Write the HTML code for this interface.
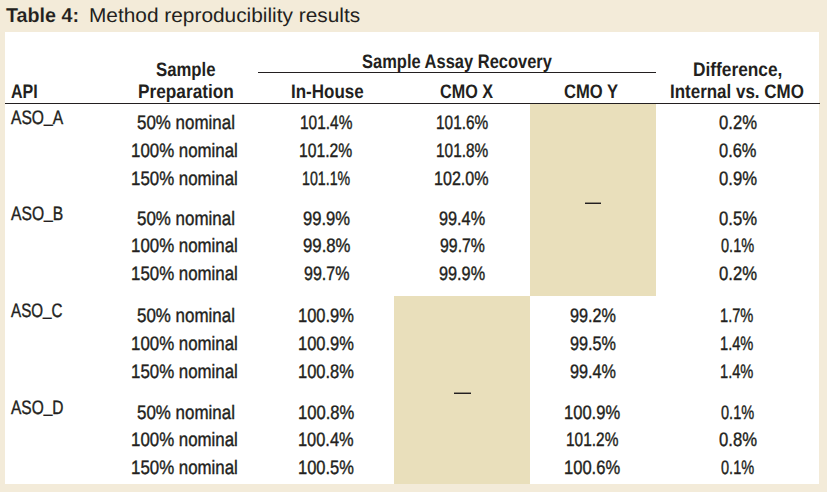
<!DOCTYPE html>
<html><head><meta charset="utf-8">
<style>
html,body{margin:0;padding:0;}
body{width:827px;height:492px;background:#f3ebd9;position:relative;overflow:hidden;font-family:"Liberation Sans",sans-serif;color:#231f20;}
.box{position:absolute;left:5px;top:32px;width:814px;height:452px;background:#fff;}
.shade{position:absolute;background:#e9dfbb;}
.rule{position:absolute;background:#231f20;height:1px;}
.dash{position:absolute;height:2px;background:linear-gradient(to bottom,rgba(35,31,32,.45) 50%,#231f20 50%);}
.r{-webkit-text-stroke:0.4px #231f20;}
.bh{}
.bt{-webkit-text-stroke:0.1px #f3ebd9;}
.u{position:relative;top:-2px;}
.t{text-rendering:geometricPrecision;position:absolute;white-space:pre;line-height:20px;transform-origin:0 0;}
</style></head><body>
<div class="box"></div>
<div class="shade" style="left:530px;top:104px;width:126px;height:192px"></div>
<div class="shade" style="left:394px;top:296px;width:136px;height:188px"></div>
<div class="rule" style="left:258px;top:72px;width:398px"></div>
<div class="rule" style="left:5px;top:103px;width:815px"></div>
<div class="dash" style="left:585px;top:202px;width:16px"></div>
<div class="dash" style="left:454px;top:392px;width:17px"></div>
<div class="t bt" style="left:6.40px;top:6.00px;font-size:20px;font-weight:700;transform-origin:0 16.0px;transform:scale(0.9858,1.0)">Table 4:</div>
<div class="t rt" style="left:88.86px;top:6.00px;font-size:20px;font-weight:400;transform-origin:0 16.0px;transform:scale(1.0424,1.0)">Method reproducibility results</div>
<div class="t bh" style="left:10.70px;top:82.00px;font-size:19.5px;font-weight:700;transform-origin:0 16.0px;transform:scale(0.8227,1.0)">API</div>
<div class="t bh" style="left:156.00px;top:60.00px;font-size:19.5px;font-weight:700;transform-origin:0 16.0px;transform:scale(0.8588,1.0)">Sample</div>
<div class="t bh" style="left:137.92px;top:82.00px;font-size:19.5px;font-weight:700;transform-origin:0 16.0px;transform:scale(0.8849,1.0)">Preparation</div>
<div class="t bh" style="left:362.00px;top:52.00px;font-size:19.5px;font-weight:700;transform-origin:0 16.0px;transform:scale(0.8452,1.0)">Sample Assay Recovery</div>
<div class="t bh" style="left:291.13px;top:82.00px;font-size:19.5px;font-weight:700;transform-origin:0 16.0px;transform:scale(0.8720,1.0)">In-House</div>
<div class="t bh" style="left:440.00px;top:82.00px;font-size:19.5px;font-weight:700;transform-origin:0 16.0px;transform:scale(0.8293,1.0)">CMO X</div>
<div class="t bh" style="left:563.60px;top:82.00px;font-size:19.5px;font-weight:700;transform-origin:0 16.0px;transform:scale(0.8512,1.0)">CMO Y</div>
<div class="t bh" style="left:692.91px;top:60.00px;font-size:19.5px;font-weight:700;transform-origin:0 16.0px;transform:scale(0.8866,1.0)">Difference,</div>
<div class="t bh" style="left:670.33px;top:82.00px;font-size:19.5px;font-weight:700;transform-origin:0 16.0px;transform:scale(0.8697,1.0)">Internal vs. CMO</div>
<div class="t r" style="left:10.90px;top:108.00px;font-size:19.5px;font-weight:400;transform-origin:0 16.0px;transform:scale(0.8012,1.0)">ASO<span class="u">_</span>A</div>
<div class="t r" style="left:136.70px;top:113.00px;font-size:19.5px;font-weight:400;transform-origin:0 16.0px;transform:scale(0.8683,1.0)">50% nominal</div>
<div class="t r" style="left:300.21px;top:113.00px;font-size:19.5px;font-weight:400;transform-origin:0 16.0px;transform:scale(0.7917,1.0)">101.4%</div>
<div class="t r" style="left:435.51px;top:113.00px;font-size:19.5px;font-weight:400;transform-origin:0 16.0px;transform:scale(0.7902,1.0)">101.6%</div>
<div class="t r" style="left:718.50px;top:113.00px;font-size:19.5px;font-weight:400;transform-origin:0 16.0px;transform:scale(0.8547,1.0)">0.2%</div>
<div class="t r" style="left:131.44px;top:141.00px;font-size:19.5px;font-weight:400;transform-origin:0 16.0px;transform:scale(0.8646,1.0)">100% nominal</div>
<div class="t r" style="left:299.29px;top:141.00px;font-size:19.5px;font-weight:400;transform-origin:0 16.0px;transform:scale(0.8056,1.0)">101.2%</div>
<div class="t r" style="left:435.51px;top:141.00px;font-size:19.5px;font-weight:400;transform-origin:0 16.0px;transform:scale(0.7902,1.0)">101.8%</div>
<div class="t r" style="left:718.50px;top:141.00px;font-size:19.5px;font-weight:400;transform-origin:0 16.0px;transform:scale(0.8434,1.0)">0.6%</div>
<div class="t r" style="left:131.44px;top:169.00px;font-size:19.5px;font-weight:400;transform-origin:0 16.0px;transform:scale(0.8646,1.0)">150% nominal</div>
<div class="t r" style="left:302.07px;top:169.00px;font-size:19.5px;font-weight:400;transform-origin:0 16.0px;transform:scale(0.7284,1.0)">101.1%</div>
<div class="t r" style="left:433.97px;top:169.00px;font-size:19.5px;font-weight:400;transform-origin:0 16.0px;transform:scale(0.8256,1.0)">102.0%</div>
<div class="t r" style="left:718.50px;top:169.00px;font-size:19.5px;font-weight:400;transform-origin:0 16.0px;transform:scale(0.8547,1.0)">0.9%</div>
<div class="t r" style="left:10.60px;top:204.00px;font-size:19.5px;font-weight:400;transform-origin:0 16.0px;transform:scale(0.8028,1.0)">ASO<span class="u">_</span>B</div>
<div class="t r" style="left:136.70px;top:209.00px;font-size:19.5px;font-weight:400;transform-origin:0 16.0px;transform:scale(0.8683,1.0)">50% nominal</div>
<div class="t r" style="left:303.20px;top:209.00px;font-size:19.5px;font-weight:400;transform-origin:0 16.0px;transform:scale(0.8516,1.0)">99.9%</div>
<div class="t r" style="left:439.40px;top:209.00px;font-size:19.5px;font-weight:400;transform-origin:0 16.0px;transform:scale(0.8334,1.0)">99.4%</div>
<div class="t r" style="left:718.50px;top:209.00px;font-size:19.5px;font-weight:400;transform-origin:0 16.0px;transform:scale(0.8547,1.0)">0.5%</div>
<div class="t r" style="left:131.44px;top:236.00px;font-size:19.5px;font-weight:400;transform-origin:0 16.0px;transform:scale(0.8646,1.0)">100% nominal</div>
<div class="t r" style="left:303.20px;top:236.00px;font-size:19.5px;font-weight:400;transform-origin:0 16.0px;transform:scale(0.8589,1.0)">99.8%</div>
<div class="t r" style="left:439.90px;top:236.00px;font-size:19.5px;font-weight:400;transform-origin:0 16.0px;transform:scale(0.8134,1.0)">99.7%</div>
<div class="t r" style="left:720.90px;top:236.00px;font-size:19.5px;font-weight:400;transform-origin:0 16.0px;transform:scale(0.7459,1.0)">0.1%</div>
<div class="t r" style="left:131.44px;top:264.00px;font-size:19.5px;font-weight:400;transform-origin:0 16.0px;transform:scale(0.8646,1.0)">150% nominal</div>
<div class="t r" style="left:304.30px;top:264.00px;font-size:19.5px;font-weight:400;transform-origin:0 16.0px;transform:scale(0.8225,1.0)">99.7%</div>
<div class="t r" style="left:439.40px;top:264.00px;font-size:19.5px;font-weight:400;transform-origin:0 16.0px;transform:scale(0.8334,1.0)">99.9%</div>
<div class="t r" style="left:718.50px;top:264.00px;font-size:19.5px;font-weight:400;transform-origin:0 16.0px;transform:scale(0.8547,1.0)">0.2%</div>
<div class="t r" style="left:10.60px;top:301.00px;font-size:19.5px;font-weight:400;transform-origin:0 16.0px;transform:scale(0.7785,1.0)">ASO<span class="u">_</span>C</div>
<div class="t r" style="left:136.70px;top:306.00px;font-size:19.5px;font-weight:400;transform-origin:0 16.0px;transform:scale(0.8683,1.0)">50% nominal</div>
<div class="t r" style="left:298.35px;top:306.00px;font-size:19.5px;font-weight:400;transform-origin:0 16.0px;transform:scale(0.8457,1.0)">100.9%</div>
<div class="t r" style="left:569.70px;top:306.00px;font-size:19.5px;font-weight:400;transform-origin:0 16.0px;transform:scale(0.8316,1.0)">99.2%</div>
<div class="t r" style="left:720.15px;top:306.00px;font-size:19.5px;font-weight:400;transform-origin:0 16.0px;transform:scale(0.7516,1.0)">1.7%</div>
<div class="t r" style="left:131.44px;top:334.00px;font-size:19.5px;font-weight:400;transform-origin:0 16.0px;transform:scale(0.8646,1.0)">100% nominal</div>
<div class="t r" style="left:298.35px;top:334.00px;font-size:19.5px;font-weight:400;transform-origin:0 16.0px;transform:scale(0.8457,1.0)">100.9%</div>
<div class="t r" style="left:569.70px;top:334.00px;font-size:19.5px;font-weight:400;transform-origin:0 16.0px;transform:scale(0.8316,1.0)">99.5%</div>
<div class="t r" style="left:720.15px;top:334.00px;font-size:19.5px;font-weight:400;transform-origin:0 16.0px;transform:scale(0.7516,1.0)">1.4%</div>
<div class="t r" style="left:131.44px;top:362.00px;font-size:19.5px;font-weight:400;transform-origin:0 16.0px;transform:scale(0.8646,1.0)">150% nominal</div>
<div class="t r" style="left:298.35px;top:362.00px;font-size:19.5px;font-weight:400;transform-origin:0 16.0px;transform:scale(0.8457,1.0)">100.8%</div>
<div class="t r" style="left:569.70px;top:362.00px;font-size:19.5px;font-weight:400;transform-origin:0 16.0px;transform:scale(0.8316,1.0)">99.4%</div>
<div class="t r" style="left:720.15px;top:362.00px;font-size:19.5px;font-weight:400;transform-origin:0 16.0px;transform:scale(0.7516,1.0)">1.4%</div>
<div class="t r" style="left:10.60px;top:398.00px;font-size:19.5px;font-weight:400;transform-origin:0 16.0px;transform:scale(0.7936,1.0)">ASO<span class="u">_</span>D</div>
<div class="t r" style="left:136.70px;top:403.00px;font-size:19.5px;font-weight:400;transform-origin:0 16.0px;transform:scale(0.8683,1.0)">50% nominal</div>
<div class="t r" style="left:297.95px;top:403.00px;font-size:19.5px;font-weight:400;transform-origin:0 16.0px;transform:scale(0.8519,1.0)">100.8%</div>
<div class="t r" style="left:564.15px;top:403.00px;font-size:19.5px;font-weight:400;transform-origin:0 16.0px;transform:scale(0.8488,1.0)">100.9%</div>
<div class="t r" style="left:720.90px;top:403.00px;font-size:19.5px;font-weight:400;transform-origin:0 16.0px;transform:scale(0.7459,1.0)">0.1%</div>
<div class="t r" style="left:131.44px;top:430.00px;font-size:19.5px;font-weight:400;transform-origin:0 16.0px;transform:scale(0.8646,1.0)">100% nominal</div>
<div class="t r" style="left:298.36px;top:430.00px;font-size:19.5px;font-weight:400;transform-origin:0 16.0px;transform:scale(0.8411,1.0)">100.4%</div>
<div class="t r" style="left:566.11px;top:430.00px;font-size:19.5px;font-weight:400;transform-origin:0 16.0px;transform:scale(0.7917,1.0)">101.2%</div>
<div class="t r" style="left:718.50px;top:430.00px;font-size:19.5px;font-weight:400;transform-origin:0 16.0px;transform:scale(0.8547,1.0)">0.8%</div>
<div class="t r" style="left:131.44px;top:458.00px;font-size:19.5px;font-weight:400;transform-origin:0 16.0px;transform:scale(0.8646,1.0)">150% nominal</div>
<div class="t r" style="left:298.35px;top:458.00px;font-size:19.5px;font-weight:400;transform-origin:0 16.0px;transform:scale(0.8457,1.0)">100.5%</div>
<div class="t r" style="left:564.15px;top:458.00px;font-size:19.5px;font-weight:400;transform-origin:0 16.0px;transform:scale(0.8488,1.0)">100.6%</div>
<div class="t r" style="left:720.90px;top:458.00px;font-size:19.5px;font-weight:400;transform-origin:0 16.0px;transform:scale(0.7459,1.0)">0.1%</div>
</body></html>
